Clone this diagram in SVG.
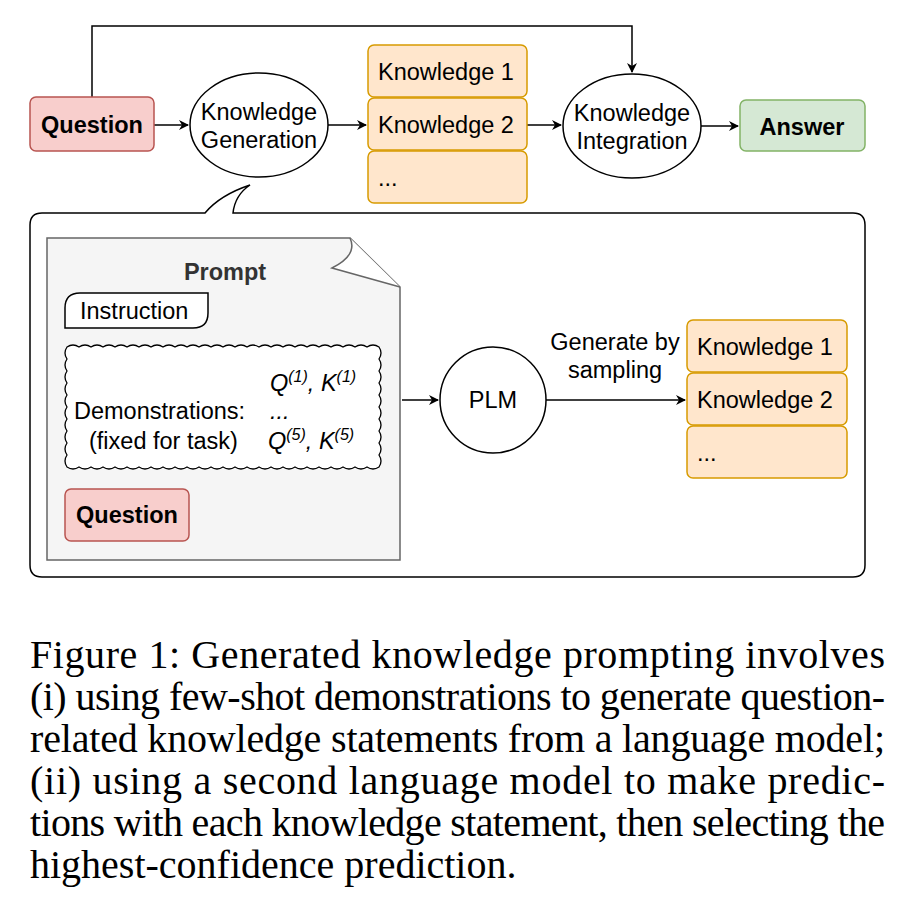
<svg xmlns="http://www.w3.org/2000/svg" width="900" height="924" viewBox="0 0 900 924">
<defs><marker id="a" markerWidth="10" markerHeight="10" refX="9" refY="5" orient="auto" markerUnits="userSpaceOnUse"><path d="M0,0 L10,5 L0,10 L3,5 Z" fill="#000"/></marker></defs>
<style>
text{font-family:"Liberation Sans",Arial,sans-serif;font-size:23.5px;fill:#000}
.b{font-weight:bold}
.red{fill:#f8cecc;stroke:#b85450;stroke-width:1.5}
.or{fill:#ffe6cc;stroke:#d79b00;stroke-width:1.5}
.gr{fill:#d5e8d4;stroke:#82b366;stroke-width:1.5}
.el{fill:#fff;stroke:#000;stroke-width:1.5}
.c{stroke:#000;stroke-width:1.5;fill:none}
.cap{font-family:"Liberation Serif","Times New Roman",serif;font-size:40px}
</style>
<g id="callout"><path d="M42,213 H205 Q220,195 250,185 Q235,195 233,213 H853 Q865,213 865,225 V565 Q865,577 853,577 H42 Q30,577 30,565 V225 Q30,213 42,213 Z" fill="#fff" stroke="#000" stroke-width="1.5"/></g>
<g id="connectors">
<path class="c" d="M92,97 V26 H632 V72" marker-end="url(#a)"/>
<path class="c" d="M154,125 H188" marker-end="url(#a)"/>
<path class="c" d="M328,125 H366" marker-end="url(#a)"/>
<path class="c" d="M527,125 H561" marker-end="url(#a)"/>
<path class="c" d="M701,126 H738" marker-end="url(#a)"/>
<path class="c" d="M402,400 H438" marker-end="url(#a)"/>
<path class="c" d="M546,400 H685" marker-end="url(#a)"/>
</g>
<g id="question"><rect class="red" x="30" y="97" width="124" height="54" rx="6"/><text class="b" x="92" y="133" text-anchor="middle">Question</text></g>
<g id="kgen"><ellipse class="el" cx="259" cy="125" rx="69" ry="52"/><text x="259" y="120" text-anchor="middle">Knowledge</text><text x="259" y="148" text-anchor="middle">Generation</text></g>
<g id="k1"><rect class="or" x="368" y="45" width="159" height="52" rx="6"/><text x="378" y="80">Knowledge 1</text></g>
<g id="k2"><rect class="or" x="368" y="98" width="159" height="52" rx="6"/><text x="378" y="133">Knowledge 2</text></g>
<g id="k3"><rect class="or" x="368" y="151" width="159" height="52" rx="6"/><text x="378" y="186">...</text></g>
<g id="kint"><ellipse class="el" cx="632" cy="126" rx="69" ry="52"/><text x="632" y="121" text-anchor="middle">Knowledge</text><text x="632" y="149" text-anchor="middle">Integration</text></g>
<g id="answer"><rect class="gr" x="740" y="100" width="125" height="51" rx="6"/><text class="b" x="802" y="135" text-anchor="middle">Answer</text></g>
<g id="prompt">
<path d="M47,238 H350 L400,287 V560 H47 Z" fill="#f5f5f5" stroke="#666" stroke-width="1.5"/>
<path d="M350,238 Q358,255 332,268 L400,287" fill="#fff" stroke="#666" stroke-width="1.5"/>
<text class="b" x="225" y="280" text-anchor="middle" style="fill:#333">Prompt</text>
</g>
<g id="instruction"><path d="M80,293 H208 V313 Q208,328 193,328 H65 V308 Q65,293 80,293 Z" fill="#fff" stroke="#000" stroke-width="1.5"/><text x="80" y="319">Instruction</text></g>
<g id="demos">
<path d="M67,347 q6,-4 12,0 q6,-4 12,0 q6,-4 12,0 q6,-4 12,0 q6,-4 12,0 q6,-4 12,0 q6,-4 12,0 q6,-4 12,0 q6,-4 12,0 q6,-4 12,0 q6,-4 12,0 q6,-4 12,0 q6,-4 12,0 q6,-4 12,0 q6,-4 12,0 q6,-4 12,0 q6,-4 12,0 q6,-4 12,0 q6,-4 12,0 q6,-4 12,0 q6,-4 12,0 q6,-4 12,0 q6,-4 12,0 q6,-4 12,0 q6,-4 12,0 q6,-4 12,0
q4,6 0,12 q4,6 0,12 q4,6 0,12 q4,6 0,12 q4,6 0,12 q4,6 0,12 q4,6 0,12 q4,6 0,12 q4,6 0,12 q4,6 0,12
q-6,4 -12,0 q-6,4 -12,0 q-6,4 -12,0 q-6,4 -12,0 q-6,4 -12,0 q-6,4 -12,0 q-6,4 -12,0 q-6,4 -12,0 q-6,4 -12,0 q-6,4 -12,0 q-6,4 -12,0 q-6,4 -12,0 q-6,4 -12,0 q-6,4 -12,0 q-6,4 -12,0 q-6,4 -12,0 q-6,4 -12,0 q-6,4 -12,0 q-6,4 -12,0 q-6,4 -12,0 q-6,4 -12,0 q-6,4 -12,0 q-6,4 -12,0 q-6,4 -12,0 q-6,4 -12,0 q-6,4 -12,0
q-4,-6 0,-12 q-4,-6 0,-12 q-4,-6 0,-12 q-4,-6 0,-12 q-4,-6 0,-12 q-4,-6 0,-12 q-4,-6 0,-12 q-4,-6 0,-12 q-4,-6 0,-12 q-4,-6 0,-12 Z" fill="#fff" stroke="#000" stroke-width="1.3"/>
<text x="270" y="391" font-style="italic">Q<tspan font-size="16" dy="-9">(1)</tspan><tspan dy="9">, K</tspan><tspan font-size="16" dy="-9">(1)</tspan></text>
<text x="74" y="419">Demonstrations:</text><text x="270" y="419" font-style="italic">...</text>
<text x="89" y="449">(fixed for task)</text>
<text x="268" y="449" font-style="italic">Q<tspan font-size="16" dy="-9">(5)</tspan><tspan dy="9">, K</tspan><tspan font-size="16" dy="-9">(5)</tspan></text>
</g>
<g id="question2"><rect class="red" x="65" y="489" width="124" height="52" rx="6"/><text class="b" x="127" y="523" text-anchor="middle">Question</text></g>
<g id="plm"><circle class="el" cx="493" cy="400" r="53"/><text x="493" y="408" text-anchor="middle">PLM</text></g>
<g id="genlabel"><text x="615" y="350" text-anchor="middle">Generate by</text><text x="615" y="378" text-anchor="middle">sampling</text></g>
<g id="pk1"><rect class="or" x="687" y="320" width="160" height="52" rx="6"/><text x="697" y="355">Knowledge 1</text></g>
<g id="pk2"><rect class="or" x="687" y="373" width="160" height="52" rx="6"/><text x="697" y="408">Knowledge 2</text></g>
<g id="pk3"><rect class="or" x="687" y="426" width="160" height="52" rx="6"/><text x="697" y="461">...</text></g>
<g id="caption">
<text class="cap" x="30" y="668" textLength="855" lengthAdjust="spacing">Figure 1:  Generated knowledge prompting involves</text>
<text class="cap" x="30" y="710" textLength="855" lengthAdjust="spacing">(i) using few-shot demonstrations to generate question-</text>
<text class="cap" x="30" y="752" textLength="855" lengthAdjust="spacing">related knowledge statements from a language model;</text>
<text class="cap" x="30" y="794" textLength="855" lengthAdjust="spacing">(ii) using a second language model to make predic-</text>
<text class="cap" x="30" y="836" textLength="855" lengthAdjust="spacing">tions with each knowledge statement, then selecting the</text>
<text class="cap" x="30" y="878">highest-confidence prediction.</text>
</g>
</svg>
